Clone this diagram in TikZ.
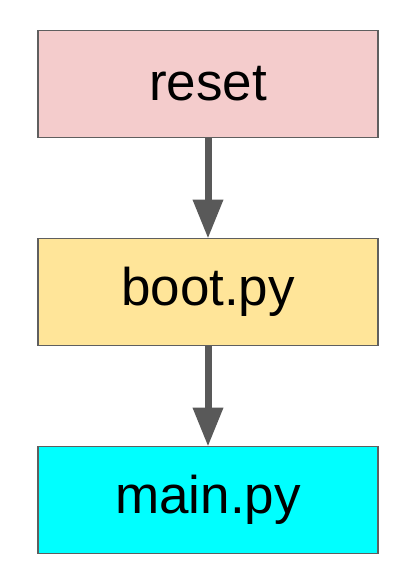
\documentclass[tikz,border=0pt]{standalone}
\usepackage{fontspec}
\setmainfont{Liberation Sans}
\usetikzlibrary{arrows.meta}
\definecolor{bordergray}{HTML}{5F5F5F}
\definecolor{arrowgray}{HTML}{595959}
\definecolor{resetfill}{HTML}{F4CCCC}
\definecolor{bootfill}{HTML}{FFE599}
\definecolor{mainfill}{HTML}{00FFFF}
\tikzset{
  stepbox/.style={draw=bordergray, line width=1.5pt, minimum width=340pt, minimum height=107pt, inner sep=0pt, font=\fontsize{53}{60}\selectfont},
  flow/.style={draw=arrowgray, line width=7pt, -{Triangle[length=39pt,width=29pt]}, shorten >=-0.75pt}
}
\begin{document}
\begin{tikzpicture}[x=1pt,y=-1pt]
\useasboundingbox (0,0) rectangle (410,584);
\node[stepbox, fill=resetfill] (reset) at (208,84) {reset};
\node[stepbox, fill=bootfill] (boot) at (208,292) {boot.py};
\node[stepbox, fill=mainfill] (main) at (208,500) {main.py};
\draw[flow] (reset) -- (boot);
\draw[flow] (boot) -- (main);
\end{tikzpicture}
\end{document}
